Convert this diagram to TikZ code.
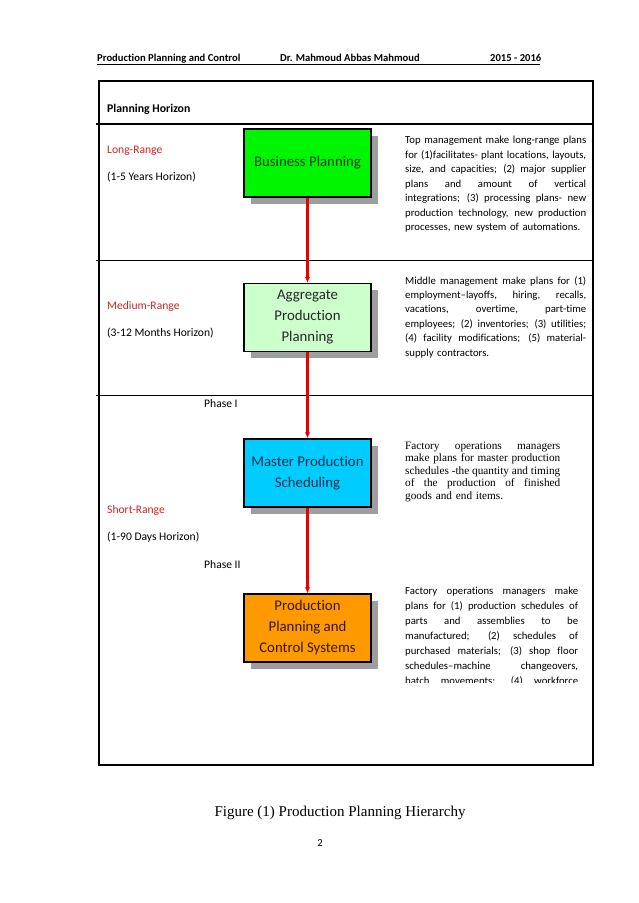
\documentclass[tikz,border=0pt]{standalone}
\usepackage{fontspec}
\setmainfont{Carlito}[Ligatures=NoCommon]
\newfontfamily\timesfont{Liberation Serif}
\usetikzlibrary{arrows.meta,shadows}
\definecolor{rangered}{RGB}{205,35,35}
\definecolor{arrowred}{RGB}{235,0,0}
\definecolor{bpgreen}{RGB}{0,245,0}
\definecolor{apgreen}{RGB}{204,255,204}
\definecolor{mpcyan}{RGB}{0,204,255}
\definecolor{pporange}{RGB}{255,153,0}
\newcommand{\jline}[1]{\hbox to \hsize{\spaceskip=0.25em plus 3em\relax #1}}
\begin{document}
\begin{tikzpicture}[x=0.9326pt,y=-0.9326pt,
  hdr/.style={anchor=base west,inner sep=0pt,font=\fontsize{9.9}{12}\selectfont\bfseries},
  lbl/.style={anchor=base west,inner sep=0pt,font=\fontsize{10.8}{13}\selectfont},
  rng/.style={lbl,text=rangered},
  box/.style={draw=black,line width=1.2pt,minimum width=118.4pt,minimum height=63.4pt,
    align=center,inner sep=2pt,font=\fontsize{13.8}{19.6}\selectfont,
    drop shadow={fill=black!38,opacity=1,shadow xshift=6.5pt,shadow yshift=-6.5pt}},
  para/.style={anchor=base west,inner sep=0pt,align=left,font=\fontsize{10}{13.5}\selectfont},
  arr/.style={draw=arrowred,line width=2.3pt,-{Latex[length=5.5pt,width=5pt]}}]
\path[use as bounding box] (0,0) rectangle (638,903);

% header
\node[hdr] (h1) at (97,62) {Production Planning and Control};
\node[hdr] (h2) at (280,62) {Dr. Mahmoud Abbas Mahmoud};
\node[hdr] (h3) at (490,62) {2015 - 2016};
\draw[line width=0.8pt] (97,64) -- (540,64);

% frame
\draw[line width=1.2pt] (99,81) -- (593,81) -- (593,765);
\draw[line width=2.6pt] (99,80) -- (99,765) -- (594,765);
\draw[line width=1pt] (96,124) -- (593,124);
\draw[line width=0.7pt] (96,260) -- (593,260);
\draw[line width=0.7pt] (96,395) -- (593,395);

% left labels
\node[lbl,font=\fontsize{11}{13}\selectfont\bfseries] (ph) at (107,113) {Planning Horizon};
\node[rng] (lr) at (107,154) {Long-Range};
\node[lbl] (lrh) at (107,181) {(1-5 Years Horizon)};
\node[rng] (mr) at (107,309) {Medium-Range};
\node[lbl] (mrh) at (107,336) {(3-12 Months Horizon)};
\node[lbl] (p1) at (204,407) {Phase I};
\node[rng] (sr) at (107,513) {Short-Range};
\node[lbl] (srh) at (107,540) {(1-90 Days Horizon)};
\node[lbl] (p2) at (204,568) {Phase II};

% boxes
\node[box,fill=bpgreen,text={rgb,255:red,10;green,60;blue,10}] (bp) at (307.5,163) {Business Planning};
\node[box,fill=apgreen,text=black!85] (ap) at (307.5,317.5) {Aggregate\\Production\\Planning};
\node[box,fill=mpcyan,text={rgb,255:red,15;green,45;blue,75}] (mp) at (307.5,473) {Master Production\\Scheduling};
\node[box,fill=pporange,text={rgb,255:red,50;green,25;blue,0}] (pp) at (307.5,628) {Production\\Planning and\\Control Systems};

\draw[arr] (bp.south) -- (ap.north);
\draw[arr] (ap.south) -- (mp.north);
\draw[arr] (mp.south) -- (pp.north);

% right descriptions
\node[para,text width=168.8pt] (t1) at (405,144) {%
\jline{Top management make long-range plans}
\jline{for (1)facilitates- plant locations, layouts,}
\jline{size, and capacities; (2) major supplier}
\jline{plans and amount of vertical}
\jline{integrations; (3) processing plans- new}
\jline{production technology, new production}
processes, new system of automations.};

\node[para,text width=168.8pt] (t2) at (405,284) {%
\jline{Middle management make plans for (1)}
\jline{employment--layoffs, hiring, recalls,}
\jline{vacations, overtime, part-time}
\jline{employees; (2) inventories; (3) utilities;}
\jline{(4) facility modifications; (5) material-}
supply contractors.};

\node[para,text width=144.6pt,font=\fontsize{10.5}{11.7}\selectfont\timesfont] (t3) at (405,449) {%
\jline{Factory operations managers}
\jline{make plans for master production}
\jline{schedules -the quantity and timing}
\jline{of the production of finished}
goods and end items.};

\begin{scope}
\clip (400,575) rectangle (600,682.5);
\node[para,text width=161.3pt,font=\fontsize{10}{14}\selectfont] (t4) at (405,594) {%
\jline{Factory operations managers make}
\jline{plans for (1) production schedules of}
\jline{parts and assemblies to be}
\jline{manufactured; (2) schedules of}
\jline{purchased materials; (3) shop floor}
\jline{schedules--machine changeovers,}
\jline{batch movements; (4) workforce}};
\end{scope}

% caption
\node[anchor=base,inner sep=0pt,font=\fontsize{14}{16}\selectfont\timesfont] (cap) at (340,816) {Figure (1) Production Planning Hierarchy};
\node[anchor=base,inner sep=0pt,font=\fontsize{10}{12}\selectfont] (pg) at (320,846) {2};
\end{tikzpicture}
\end{document}
